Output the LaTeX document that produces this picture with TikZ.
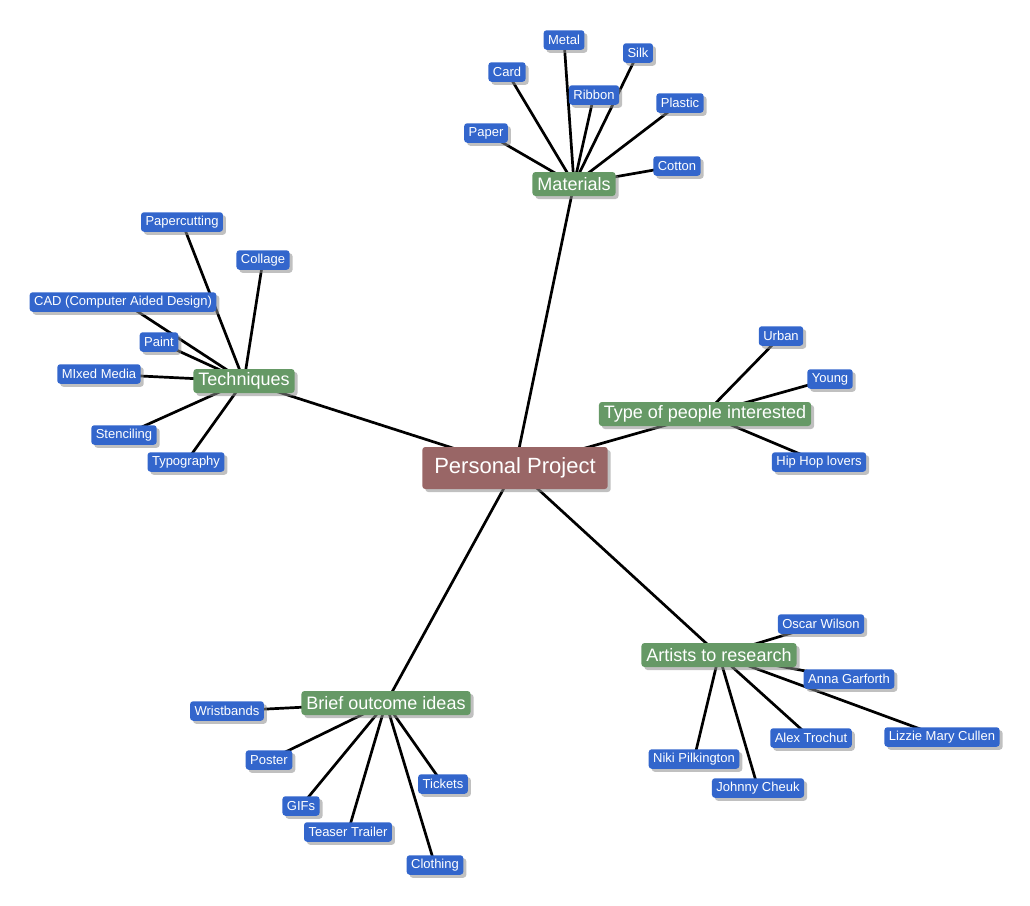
\documentclass[tikz,border=0pt]{standalone}
\usepackage{fontspec}
\setmainfont{Liberation Sans}
\usetikzlibrary{shadows,backgrounds}

\definecolor{rootred}{RGB}{153,102,102}
\definecolor{branchgreen}{RGB}{102,153,102}
\definecolor{leafblue}{RGB}{51,102,204}

\begin{document}
\begin{tikzpicture}[
    x=1pt, y=-1pt,
    box/.style={rectangle, rounded corners=3pt, text=white, align=center,
        drop shadow={shadow xshift=3pt, shadow yshift=-3pt, fill=black!45, opacity=0.55}},
    root/.style={box, fill=rootred, font=\fontsize{22}{26}\selectfont, minimum height=42pt, inner xsep=12pt, inner ysep=2pt},
    branch/.style={box, fill=branchgreen, font=\fontsize{18}{21}\selectfont, minimum height=24pt, inner xsep=5pt, inner ysep=1pt},
    leaf/.style={box, fill=leafblue, font=\fontsize{13}{15}\selectfont, minimum height=19.5pt, inner xsep=4.5pt, inner ysep=1pt},
    link/.style={draw=black, line width=2.7pt}
]
\useasboundingbox (0,0) rectangle (1030,905);

% Centre
\node[root] (project) at (515,468) {Personal Project};

% Main branches
\node[branch] (materials) at (574,184) {Materials};
\node[branch] (techniques) at (244,381) {Techniques};
\node[branch] (people) at (705,414) {Type of people interested};
\node[branch] (artists) at (719,655) {Artists to research};
\node[branch] (outcome) at (386,703) {Brief outcome ideas};

% Materials
\node[leaf] (paper) at (486,133) {Paper};
\node[leaf] (card) at (507,72) {Card};
\node[leaf] (metal) at (564,40) {Metal};
\node[leaf] (ribbon) at (594,95) {Ribbon};
\node[leaf] (silk) at (638,53) {Silk};
\node[leaf] (plastic) at (680,103) {Plastic};
\node[leaf] (cotton) at (677,166) {Cotton};

% Techniques
\node[leaf] (papercutting) at (182,222) {Papercutting};
\node[leaf] (collage) at (263,260) {Collage};
\node[leaf] (cad) at (123,302) {CAD (Computer Aided Design)};
\node[leaf] (paint) at (159,342) {Paint};
\node[leaf] (mixedmedia) at (99,374) {MIxed Media};
\node[leaf] (stenciling) at (124,435) {Stenciling};
\node[leaf] (typography) at (186,462) {Typography};

% Type of people interested
\node[leaf] (urban) at (781,336) {Urban};
\node[leaf] (young) at (830,379) {Young};
\node[leaf] (hiphop) at (819,462) {Hip Hop lovers};

% Artists to research
\node[leaf] (oscar) at (821,624) {Oscar Wilson};
\node[leaf] (anna) at (849,679) {Anna Garforth};
\node[leaf] (alex) at (811,738) {Alex Trochut};
\node[leaf] (lizzie) at (942,737) {Lizzie Mary Cullen};
\node[leaf] (niki) at (694,759) {Niki Pilkington};
\node[leaf] (johnny) at (758,788) {Johnny Cheuk};

% Brief outcome ideas
\node[leaf] (wristbands) at (227,711) {Wristbands};
\node[leaf] (poster) at (269,760) {Poster};
\node[leaf] (gifs) at (301,806) {GIFs};
\node[leaf] (teaser) at (348,832) {Teaser Trailer};
\node[leaf] (tickets) at (443,784) {Tickets};
\node[leaf] (clothing) at (435,865) {Clothing};

% Connectors
\begin{scope}[on background layer]
    \draw[link] (project.center) -- (materials.center);
    \draw[link] (project.center) -- (techniques.center);
    \draw[link] (project.center) -- (people.center);
    \draw[link] (project.center) -- (artists.center);
    \draw[link] (project.center) -- (outcome.center);

    \draw[link] (materials.center) -- (paper.center);
    \draw[link] (materials.center) -- (card.center);
    \draw[link] (materials.center) -- (metal.center);
    \draw[link] (materials.center) -- (ribbon.center);
    \draw[link] (materials.center) -- (silk.center);
    \draw[link] (materials.center) -- (plastic.center);
    \draw[link] (materials.center) -- (cotton.center);

    \draw[link] (techniques.center) -- (papercutting.center);
    \draw[link] (techniques.center) -- (collage.center);
    \draw[link] (techniques.center) -- (cad.center);
    \draw[link] (techniques.center) -- (paint.center);
    \draw[link] (techniques.center) -- (mixedmedia.center);
    \draw[link] (techniques.center) -- (stenciling.center);
    \draw[link] (techniques.center) -- (typography.center);

    \draw[link] (people.center) -- (urban.center);
    \draw[link] (people.center) -- (young.center);
    \draw[link] (people.center) -- (hiphop.center);

    \draw[link] (artists.center) -- (oscar.center);
    \draw[link] (artists.center) -- (anna.center);
    \draw[link] (artists.center) -- (alex.center);
    \draw[link] (artists.center) -- (lizzie.center);
    \draw[link] (artists.center) -- (niki.center);
    \draw[link] (artists.center) -- (johnny.center);

    \draw[link] (outcome.center) -- (wristbands.center);
    \draw[link] (outcome.center) -- (poster.center);
    \draw[link] (outcome.center) -- (gifs.center);
    \draw[link] (outcome.center) -- (teaser.center);
    \draw[link] (outcome.center) -- (tickets.center);
    \draw[link] (outcome.center) -- (clothing.center);
\end{scope}

\end{tikzpicture}
\end{document}
